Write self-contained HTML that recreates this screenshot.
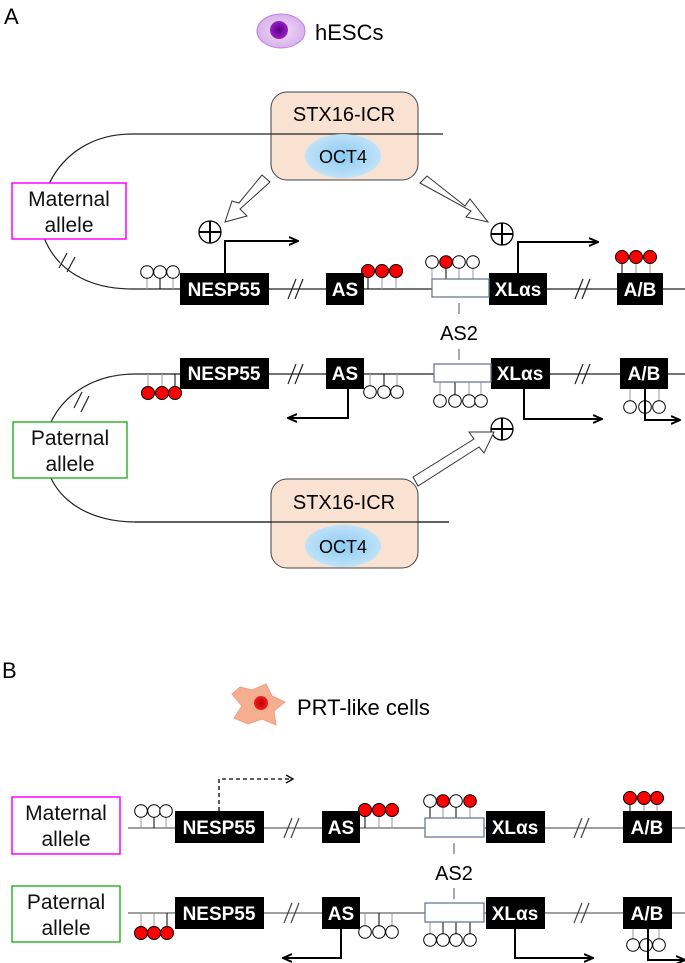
<!DOCTYPE html>
<html><head><meta charset="utf-8"><style>
body{margin:0;background:#fff}
svg{display:block}
text{font-family:"Liberation Sans",Arial,sans-serif}
.g{font-weight:bold;fill:#fff;font-size:19px;text-anchor:middle}
.l{font-size:21px;text-anchor:middle;fill:#111}
</style></head><body>
<svg width="685" height="963" viewBox="0 0 685 963" xmlns="http://www.w3.org/2000/svg">
<defs>
<radialGradient id="oct" cx="50%" cy="50%" r="50%"><stop offset="0" stop-color="#8ccaf2"/><stop offset="1" stop-color="#bfe2f8"/></radialGradient>
<radialGradient id="pur" cx="50%" cy="50%" r="50%"><stop offset="0" stop-color="#f1e0f8"/><stop offset="1" stop-color="#d7b1ec"/></radialGradient>
<radialGradient id="nuc" cx="50%" cy="50%" r="50%"><stop offset="0" stop-color="#5a0080"/><stop offset="1" stop-color="#9a20c8"/></radialGradient>
<radialGradient id="rn" cx="50%" cy="50%" r="50%"><stop offset="0" stop-color="#c00000"/><stop offset="1" stop-color="#f02020"/></radialGradient>
<marker id="ah" markerWidth="10" markerHeight="10" refX="8" refY="5" orient="auto" markerUnits="userSpaceOnUse"><path d="M0,1 L9,5 L0,9" fill="none" stroke="#000" stroke-width="2"/></marker>
</defs>

<text x="4" y="24" font-size="22">A</text>
<ellipse cx="281" cy="31" rx="24" ry="17" fill="url(#pur)" stroke="#c080e0"/>
<circle cx="279" cy="30" r="9" fill="url(#nuc)"/>
<text x="315" y="40" font-size="22">hESCs</text>

<!-- top STX16 -->
<rect x="271" y="92" width="147" height="88" rx="16" fill="#f9e2d2" stroke="#444"/>
<text x="344" y="121" font-size="20" text-anchor="middle">STX16-ICR</text>
<path d="M443,134 L132,134 C60,134 30,200 45,240 C60,275 95,289 132,289" fill="none" stroke="#222" stroke-width="1.2"/>
<ellipse cx="343" cy="156" rx="38" ry="22" fill="url(#oct)"/>
<text x="343" y="163" font-size="18" text-anchor="middle">OCT4</text>
<rect x="12" y="183" width="114" height="56" fill="#fff" stroke="#f0f" stroke-width="1.5"/>
<text class="l" x="69" y="206">Maternal</text><text class="l" x="69" y="232">allele</text>
<line x1="60" y1="262" x2="74" y2="258" stroke="#fff" stroke-width="5"/>
<path d="M59,268 l8,-15 M67,272 l8,-15" stroke="#222" stroke-width="1.2"/>

<!-- hollow arrows -->
<polygon points="262,175 270,182 240,209 247,216 225,222 232,201 239,203" fill="#fff" stroke="#333"/>
<polygon points="420,183 427,176 465,206 470,199 488,222 466,217 471,211" fill="#fff" stroke="#333"/>

<!-- plus -->
<g fill="#fff" stroke="#000" stroke-width="1.3">
<circle cx="210" cy="232" r="11"/><circle cx="502" cy="234" r="11"/><circle cx="502" cy="429" r="11"/></g>
<path d="M199,232h22M210,221v22M491,234h22M502,223v22M491,429h22M502,418v22" stroke="#000" stroke-width="2"/>

<!-- maternal A line -->
<line x1="132" y1="289" x2="685" y2="289" stroke="#222" stroke-width="1.2"/>
<g stroke="#999" stroke-width="1"><line x1="147" y1="278" x2="147" y2="289"/><line x1="173" y1="278" x2="173" y2="289"/><line x1="382" y1="277" x2="382" y2="289"/><line x1="396" y1="277" x2="396" y2="289"/><line x1="432" y1="268" x2="432" y2="279"/><line x1="459" y1="268" x2="459" y2="279"/><line x1="473" y1="268" x2="473" y2="279"/><line x1="636" y1="263" x2="636" y2="273"/><line x1="650" y1="263" x2="650" y2="273"/></g>
<g stroke="#000" stroke-width="1"><line x1="160" y1="278" x2="160" y2="289"/><line x1="368" y1="277" x2="368" y2="289"/><line x1="446" y1="268" x2="446" y2="279"/><line x1="622" y1="263" x2="622" y2="273"/></g>
<g stroke="#000" stroke-width="1">
<circle cx="147" cy="272" r="6.3" fill="#fff"/><circle cx="160" cy="272" r="6.3" fill="#fff"/><circle cx="173" cy="272" r="6.3" fill="#fff"/>
<circle cx="368" cy="271" r="6.5" fill="#f00"/><circle cx="382" cy="271" r="6.5" fill="#f00"/><circle cx="396" cy="271" r="6.5" fill="#f00"/>
<circle cx="432" cy="262" r="6.3" fill="#fff"/><circle cx="446" cy="262" r="6.3" fill="#f00"/><circle cx="459" cy="262" r="6.3" fill="#fff"/><circle cx="473" cy="262" r="6.3" fill="#fff"/>
<circle cx="622" cy="257" r="6.5" fill="#f00"/><circle cx="636" cy="257" r="6.5" fill="#f00"/><circle cx="650" cy="257" r="6.5" fill="#f00"/></g>
<g fill="#000"><rect x="180" y="273" width="89" height="32"/><rect x="326" y="273" width="38" height="32"/><rect x="489" y="273" width="58" height="32"/><rect x="617" y="273" width="46" height="32"/></g>
<rect x="432" y="279" width="57" height="18" fill="#fff" stroke="#6a7a95" stroke-width="1.3"/>
<text class="g" x="224" y="296">NESP55</text><text class="g" x="345" y="296">AS</text><text class="g" x="518" y="296">XLαs</text><text class="g" x="640" y="296">A/B</text>
<path d="M288,299 l8,-20 M295,299 l8,-20 M575,299 l8,-20 M582,299 l8,-20" stroke="#222" stroke-width="1.2"/>
<path d="M225,273 V241 H297" fill="none" stroke="#000" stroke-width="2" marker-end="url(#ah)"/>
<path d="M518,273 V242 H597" fill="none" stroke="#000" stroke-width="2" marker-end="url(#ah)"/>

<!-- AS2 -->
<line x1="459" y1="303" x2="459" y2="314" stroke="#555"/>
<text x="459" y="340" font-size="20" text-anchor="middle">AS2</text>
<line x1="459" y1="349" x2="459" y2="360" stroke="#555"/>

<!-- paternal A -->
<path d="M685,374 L135,374 C95,374 55,395 45,440 C40,490 80,522 135,522 L449,522" fill="none" stroke="#222" stroke-width="1.2"/>
<path d="M74,408 l8,-16 M81,412 l8,-16" stroke="#222" stroke-width="1.2"/>
<g stroke="#999"><line x1="148" y1="374" x2="148" y2="387"/><line x1="162" y1="374" x2="162" y2="387"/><line x1="370" y1="374" x2="370" y2="386"/><line x1="397" y1="374" x2="397" y2="386"/><line x1="440" y1="382" x2="440" y2="395"/><line x1="469" y1="382" x2="469" y2="395"/><line x1="481" y1="382" x2="481" y2="395"/><line x1="630" y1="389" x2="630" y2="401"/><line x1="659" y1="389" x2="659" y2="401"/></g>
<g stroke="#000"><line x1="175" y1="374" x2="175" y2="387"/><line x1="384" y1="374" x2="384" y2="386"/><line x1="455" y1="382" x2="455" y2="395"/></g>
<g stroke="#000" stroke-width="1">
<circle cx="148" cy="393" r="6.5" fill="#f00"/><circle cx="162" cy="393" r="6.5" fill="#f00"/><circle cx="175" cy="393" r="6.5" fill="#f00"/>
<circle cx="370" cy="392" r="6.3" fill="#fff"/><circle cx="384" cy="392" r="6.3" fill="#fff"/><circle cx="397" cy="392" r="6.3" fill="#fff"/>
<circle cx="440" cy="401" r="6.3" fill="#fff"/><circle cx="455" cy="401" r="6.3" fill="#fff"/><circle cx="469" cy="401" r="6.3" fill="#fff"/><circle cx="481" cy="401" r="6.3" fill="#fff"/>
<circle cx="630" cy="407" r="6.3" fill="#fff"/><circle cx="645" cy="407" r="6.3" fill="#fff"/><circle cx="659" cy="407" r="6.3" fill="#fff"/></g>
<g fill="#000"><rect x="180" y="358" width="89" height="31"/><rect x="326" y="358" width="38" height="31"/><rect x="491" y="358" width="59" height="31"/><rect x="620" y="358" width="48" height="31"/></g>
<rect x="434" y="364" width="57" height="18" fill="#fff" stroke="#6a7a95" stroke-width="1.3"/>
<text class="g" x="224" y="380">NESP55</text><text class="g" x="345" y="380">AS</text><text class="g" x="520" y="380">XLαs</text><text class="g" x="644" y="380">A/B</text>
<path d="M288,384 l8,-20 M295,384 l8,-20 M575,384 l8,-20 M582,384 l8,-20" stroke="#222" stroke-width="1.2"/>
<path d="M348,389 V418 H289" fill="none" stroke="#000" stroke-width="2" marker-end="url(#ah)"/>
<path d="M524,389 V419 H601" fill="none" stroke="#000" stroke-width="2" marker-end="url(#ah)"/>
<path d="M645,389 V420 H679" fill="none" stroke="#000" stroke-width="2" marker-end="url(#ah)"/>
<rect x="13" y="422" width="114" height="56" fill="#fff" stroke="#1a1" stroke-width="1.3"/>
<text class="l" x="70" y="445">Paternal</text><text class="l" x="70" y="471">allele</text>
<polygon points="418,486 413,477 474,439 469,432 494,432 484,453 479,447" fill="#fff" stroke="#333"/>
<rect x="271" y="479" width="147" height="89" rx="16" fill="#f9e2d2" stroke="#444"/>
<text x="344" y="509" font-size="20" text-anchor="middle">STX16-ICR</text>
<line x1="135" y1="522" x2="449" y2="522" stroke="#222" stroke-width="1.2"/>
<ellipse cx="343" cy="546" rx="38" ry="21" fill="url(#oct)"/>
<text x="343" y="553" font-size="18" text-anchor="middle">OCT4</text>

<!-- B -->
<text x="2" y="678" font-size="22">B</text>
<path d="M240,687 L252,690 L266,684 L272,696 L285,702 L274,711 L276,725 L262,719 L248,724 L234,718 L242,706 L232,694 Z" fill="#f6ae90" stroke="#f0a080"/>
<circle cx="261" cy="703" r="7" fill="url(#rn)"/>
<text x="297" y="715" font-size="22">PRT-like cells</text>

<!-- maternal B -->
<line x1="128" y1="828" x2="685" y2="828" stroke="#666" stroke-width="1.2"/>
<g stroke="#999"><line x1="141" y1="817" x2="141" y2="828"/><line x1="166" y1="817" x2="166" y2="828"/><line x1="379" y1="816" x2="379" y2="828"/><line x1="392" y1="816" x2="392" y2="828"/><line x1="443" y1="807" x2="443" y2="818"/><line x1="470" y1="807" x2="470" y2="818"/><line x1="644" y1="804" x2="644" y2="811"/><line x1="657" y1="804" x2="657" y2="811"/></g>
<g stroke="#000"><line x1="154" y1="817" x2="154" y2="828"/><line x1="365" y1="816" x2="365" y2="828"/><line x1="430" y1="807" x2="430" y2="818"/><line x1="456" y1="807" x2="456" y2="818"/><line x1="630" y1="804" x2="630" y2="811"/></g>
<g stroke="#000" stroke-width="1">
<circle cx="141" cy="811" r="6.3" fill="#fff"/><circle cx="154" cy="811" r="6.3" fill="#fff"/><circle cx="166" cy="811" r="6.3" fill="#fff"/>
<circle cx="365" cy="810" r="6.5" fill="#f00"/><circle cx="379" cy="810" r="6.5" fill="#f00"/><circle cx="392" cy="810" r="6.5" fill="#f00"/>
<circle cx="430" cy="801" r="6.3" fill="#fff"/><circle cx="443" cy="801" r="6.3" fill="#f00"/><circle cx="456" cy="801" r="6.3" fill="#fff"/><circle cx="470" cy="801" r="6.3" fill="#f00"/>
<circle cx="630" cy="798" r="6.5" fill="#f00"/><circle cx="644" cy="798" r="6.5" fill="#f00"/><circle cx="657" cy="798" r="6.5" fill="#f00"/></g>
<g fill="#000"><rect x="175" y="811" width="89" height="32"/><rect x="322" y="811" width="38" height="32"/><rect x="486" y="811" width="59" height="32"/><rect x="623" y="811" width="49" height="32"/></g>
<rect x="425" y="818" width="59" height="19" fill="#fff" stroke="#6a7a95" stroke-width="1.3"/>
<text class="g" x="219" y="834">NESP55</text><text class="g" x="341" y="834">AS</text><text class="g" x="515" y="834">XLαs</text><text class="g" x="647" y="834">A/B</text>
<path d="M284,838 l8,-20 M291,838 l8,-20 M574,838 l8,-20 M581,838 l8,-20" stroke="#444" stroke-width="1.2"/>
<path d="M219,811 V779 H292" fill="none" stroke="#000" stroke-width="1.3" stroke-dasharray="4,3"/>
<path d="M286,775 L293,779 L286,783" fill="none" stroke="#000" stroke-width="1.3"/>
<rect x="12" y="797" width="108" height="57" fill="#fff" stroke="#f0f" stroke-width="1.5"/>
<text class="l" x="66" y="820">Maternal</text><text class="l" x="66" y="846">allele</text>
<line x1="454" y1="843" x2="454" y2="854" stroke="#555"/>
<text x="454" y="880" font-size="20" text-anchor="middle">AS2</text>
<line x1="454" y1="888" x2="454" y2="899" stroke="#555"/>

<!-- paternal B -->
<line x1="128" y1="913" x2="685" y2="913" stroke="#666" stroke-width="1.2"/>
<g stroke="#999"><line x1="141" y1="913" x2="141" y2="927"/><line x1="154" y1="913" x2="154" y2="927"/><line x1="365" y1="913" x2="365" y2="926"/><line x1="392" y1="913" x2="392" y2="926"/><line x1="430" y1="922" x2="430" y2="934"/><line x1="633" y1="929" x2="633" y2="939"/><line x1="659" y1="929" x2="659" y2="939"/></g>
<g stroke="#000"><line x1="167" y1="913" x2="167" y2="927"/><line x1="379" y1="913" x2="379" y2="926"/><line x1="443" y1="922" x2="443" y2="934"/><line x1="456" y1="922" x2="456" y2="934"/><line x1="470" y1="922" x2="470" y2="934"/></g>
<g stroke="#000" stroke-width="1">
<circle cx="141" cy="933" r="6.5" fill="#f00"/><circle cx="154" cy="933" r="6.5" fill="#f00"/><circle cx="167" cy="933" r="6.5" fill="#f00"/>
<circle cx="365" cy="932" r="6.3" fill="#fff"/><circle cx="379" cy="932" r="6.3" fill="#fff"/><circle cx="392" cy="932" r="6.3" fill="#fff"/>
<circle cx="430" cy="940" r="6.3" fill="#fff"/><circle cx="443" cy="940" r="6.3" fill="#fff"/><circle cx="456" cy="940" r="6.3" fill="#fff"/><circle cx="470" cy="940" r="6.3" fill="#fff"/>
<circle cx="633" cy="945" r="6.3" fill="#fff"/><circle cx="646" cy="945" r="6.3" fill="#fff"/><circle cx="659" cy="945" r="6.3" fill="#fff"/></g>
<g fill="#000"><rect x="175" y="897" width="89" height="32"/><rect x="322" y="897" width="38" height="32"/><rect x="486" y="897" width="59" height="32"/><rect x="623" y="897" width="49" height="32"/></g>
<rect x="425" y="903" width="59" height="19" fill="#fff" stroke="#6a7a95" stroke-width="1.3"/>
<text class="g" x="219" y="920">NESP55</text><text class="g" x="341" y="920">AS</text><text class="g" x="515" y="920">XLαs</text><text class="g" x="647" y="920">A/B</text>
<path d="M284,923 l8,-20 M291,923 l8,-20 M574,923 l8,-20 M581,923 l8,-20" stroke="#444" stroke-width="1.2"/>
<path d="M341,929 V958 H284" fill="none" stroke="#000" stroke-width="2" marker-end="url(#ah)"/>
<path d="M515,929 V958 H592" fill="none" stroke="#000" stroke-width="2" marker-end="url(#ah)"/>
<path d="M648,929 V960 H684" fill="none" stroke="#000" stroke-width="2" marker-end="url(#ah)"/>
<rect x="12" y="886" width="108" height="56" fill="#fff" stroke="#1a1" stroke-width="1.3"/>
<text class="l" x="66" y="909">Paternal</text><text class="l" x="66" y="935">allele</text>
</svg>
</body></html>
